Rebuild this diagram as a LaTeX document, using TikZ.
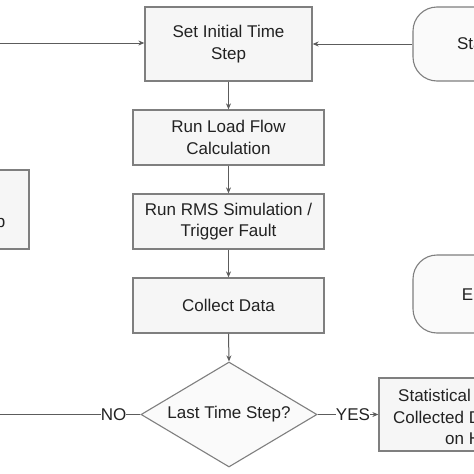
\documentclass[tikz,border=0pt]{standalone}
\usepackage{fontspec}
\setmainfont{Liberation Sans}
\usetikzlibrary{shapes.geometric,arrows.meta}
\definecolor{boxline}{HTML}{7F7F7F}
\definecolor{boxfill}{HTML}{F6F6F6}
\definecolor{termfill}{HTML}{FAFAFA}
\definecolor{conn}{HTML}{5C5C5C}
\definecolor{txt}{HTML}{222222}
\tikzset{
  every node/.style={font=\fontsize{17}{21.5}\selectfont, text=txt},
  procbox/.style={draw=boxline, fill=boxfill, line width=1.3pt, rectangle, inner sep=0pt, align=center},
  termbox/.style={draw=boxline, fill=termfill, line width=1.1pt, rectangle, rounded corners=24pt, inner sep=0pt, align=center},
  decbox/.style={draw=boxline, fill=termfill, line width=1.1pt, diamond, aspect=1.676, inner sep=0pt, align=center},
  conline/.style={draw=conn, line width=1pt},
  conarrow/.style={draw=conn, line width=1pt, -{Stealth[length=6pt,width=5pt]}},
  lab/.style={fill=white, inner sep=0pt}
}
\begin{document}
\begin{tikzpicture}[x=1pt,y=-1pt]
\useasboundingbox (0,0) rectangle (474,474);
\clip (0,0) rectangle (474,474);
\fill[white] (0,0) rectangle (474,474);
% nodes
\node[procbox, minimum width=167pt, minimum height=74pt] (set) at (228.5,44) {Set Initial Time\\Step};
\node[procbox, minimum width=191pt, minimum height=55pt] (load) at (228.5,137.5) {Run Load Flow\\Calculation};
\node[procbox, minimum width=191pt, minimum height=55pt] (rms) at (228.5,221.5) {Run RMS Simulation /\\Trigger Fault};
\node[procbox, minimum width=191pt, minimum height=55pt] (collect) at (228.5,305.5) {Collect Data};
\node[decbox, minimum width=176pt, minimum height=105pt] (dec) at (229,414.5) {Last Time Step?};
\node[termbox, minimum width=124pt, minimum height=74pt] (start) at (475,44) {Start};
\node[termbox, minimum width=128pt, minimum height=78pt] (end) at (477,294) {End};
\node[procbox, minimum width=196pt, minimum height=73pt] (stat) at (477,414.5) {};
\node[anchor=base west, inner sep=0pt] (stat1) at (398,401) {Statistical};
\node[anchor=base west, inner sep=0pt] (stat2) at (393,423) {Collected D};
\node[anchor=base west, inner sep=0pt] (stat3) at (445,444) {on H};
\node[procbox, minimum width=80pt, minimum height=79pt] (incr) at (-11,209.5) {};
\node[anchor=base east, inner sep=0pt] (incrtxt) at (5.5,227) {Step};
\node[lab] (nolab) at (113.5,414.5) {NO};
\node[lab] (yeslab) at (353,414.5) {YES};
% coordinates off the page
\coordinate (loopbot) at (-11,414.5);
\coordinate (looptop) at (-11,43);
% connectors
\draw[conarrow] (set.south) -- (load.north);
\draw[conarrow] (load.south) -- (rms.north);
\draw[conarrow] (rms.south) -- (collect.north);
\draw[conarrow] (collect.south) -- (dec.north);
\draw[conarrow] (start.west) -- (set.east);
\draw[conline] (dec.west) -- (nolab.east);
\draw[conline] (nolab.west) -- (loopbot) -- (incr.south);
\draw[conarrow] (incr.north) -- (looptop) -- (set.west |- looptop);
\draw[conline] (dec.east) -- (yeslab.west);
\draw[conarrow] (yeslab.east) -- (stat.west);
\draw[conarrow] (stat.north) -- (end.south);
\end{tikzpicture}
\end{document}
